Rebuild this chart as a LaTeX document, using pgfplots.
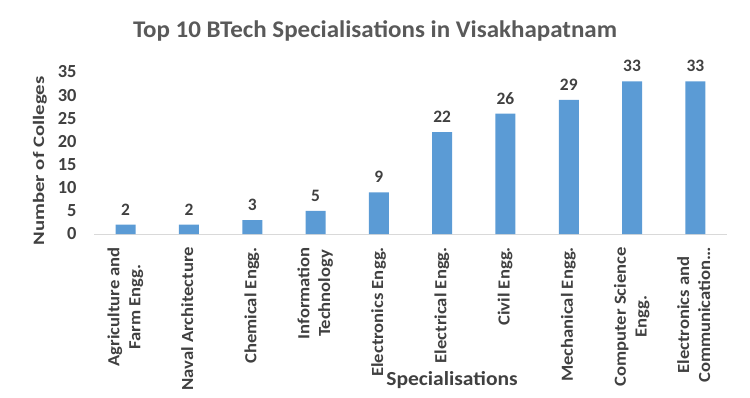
\documentclass[border=0pt]{standalone}
\usepackage{pgfplots}
\pgfplotsset{compat=1.18}
\usepackage{graphicx}
\usepackage{fontspec}
\setmainfont{Carlito}
\newcommand\W[1]{\scalebox{1.1}[1]{\fontsize{17}{21}\selectfont\bfseries\begin{tabular}{@{}c@{}}#1\end{tabular}}}
\definecolor{barblue}{HTML}{5B9BD5}
\definecolor{txt}{HTML}{404040}
\definecolor{ttl}{HTML}{595959}
\definecolor{axl}{HTML}{D9D9D9}
\begin{document}
\begin{tikzpicture}
\path[use as bounding box] (0,0) rectangle (750bp,398bp);
\begin{axis}[
  at={(94bp,164bp)}, anchor=south west,
  scale only axis, width=633bp, height=162bp,
  xmin=-0.5, xmax=9.5, ymin=0, ymax=35,
  ytick={0,5,...,35},
  xtick=data,
  xticklabels={{\W{Agriculture and\\Farm Engg.}},{\W{Naval Architecture}},{\W{Chemical Engg.}},{\W{Information\\Technology}},{\W{Electronics Engg.}},{\W{Electrical Engg.}},{\W{Civil Engg.}},{\W{Mechanical Engg.}},{\W{Computer Science\\Engg.}},{\W{Electronics and\\Communication…}}},
  x tick label style={rotate=90, anchor=east, text=txt, inner sep=0pt},
  xticklabel shift=13bp,
  y tick label style={font=\fontsize{18.5}{21}\selectfont\bfseries, text=txt},
  yticklabel shift=14bp,
  /pgf/number format/assume math mode=true,
  major tick length=0pt,
  axis x line*=bottom, axis y line*=left,
  y axis line style={draw=none},
  x axis line style={draw=axl, line width=1pt},
  ybar, bar width=20bp,
  nodes near coords,
  nodes near coords style={font=\fontsize{17.5}{21}\selectfont\bfseries, text=txt, yshift=6bp},
  clip=false,
]
\addplot[fill=barblue, draw=none] coordinates {(0,2) (1,2) (2,3) (3,5) (4,9) (5,22) (6,26) (7,29) (8,33) (9,33)};
\end{axis}
\node[text=ttl, inner sep=0pt] at (375bp,367bp) {\scalebox{1.045}[1]{\fontsize{24}{28}\selectfont\bfseries Top 10 BTech Specialisations in Visakhapatnam}};
\node[text=txt, rotate=90, inner sep=0pt] at (40bp,237bp) {\scalebox{1.3}[1]{\fontsize{16}{20}\selectfont\bfseries Number of Colleges}};
\node[text=txt, inner sep=0pt] at (452bp,18bp) {\scalebox{1.08}[1]{\fontsize{20}{24}\selectfont\bfseries Specialisations}};
\end{tikzpicture}
\end{document}
